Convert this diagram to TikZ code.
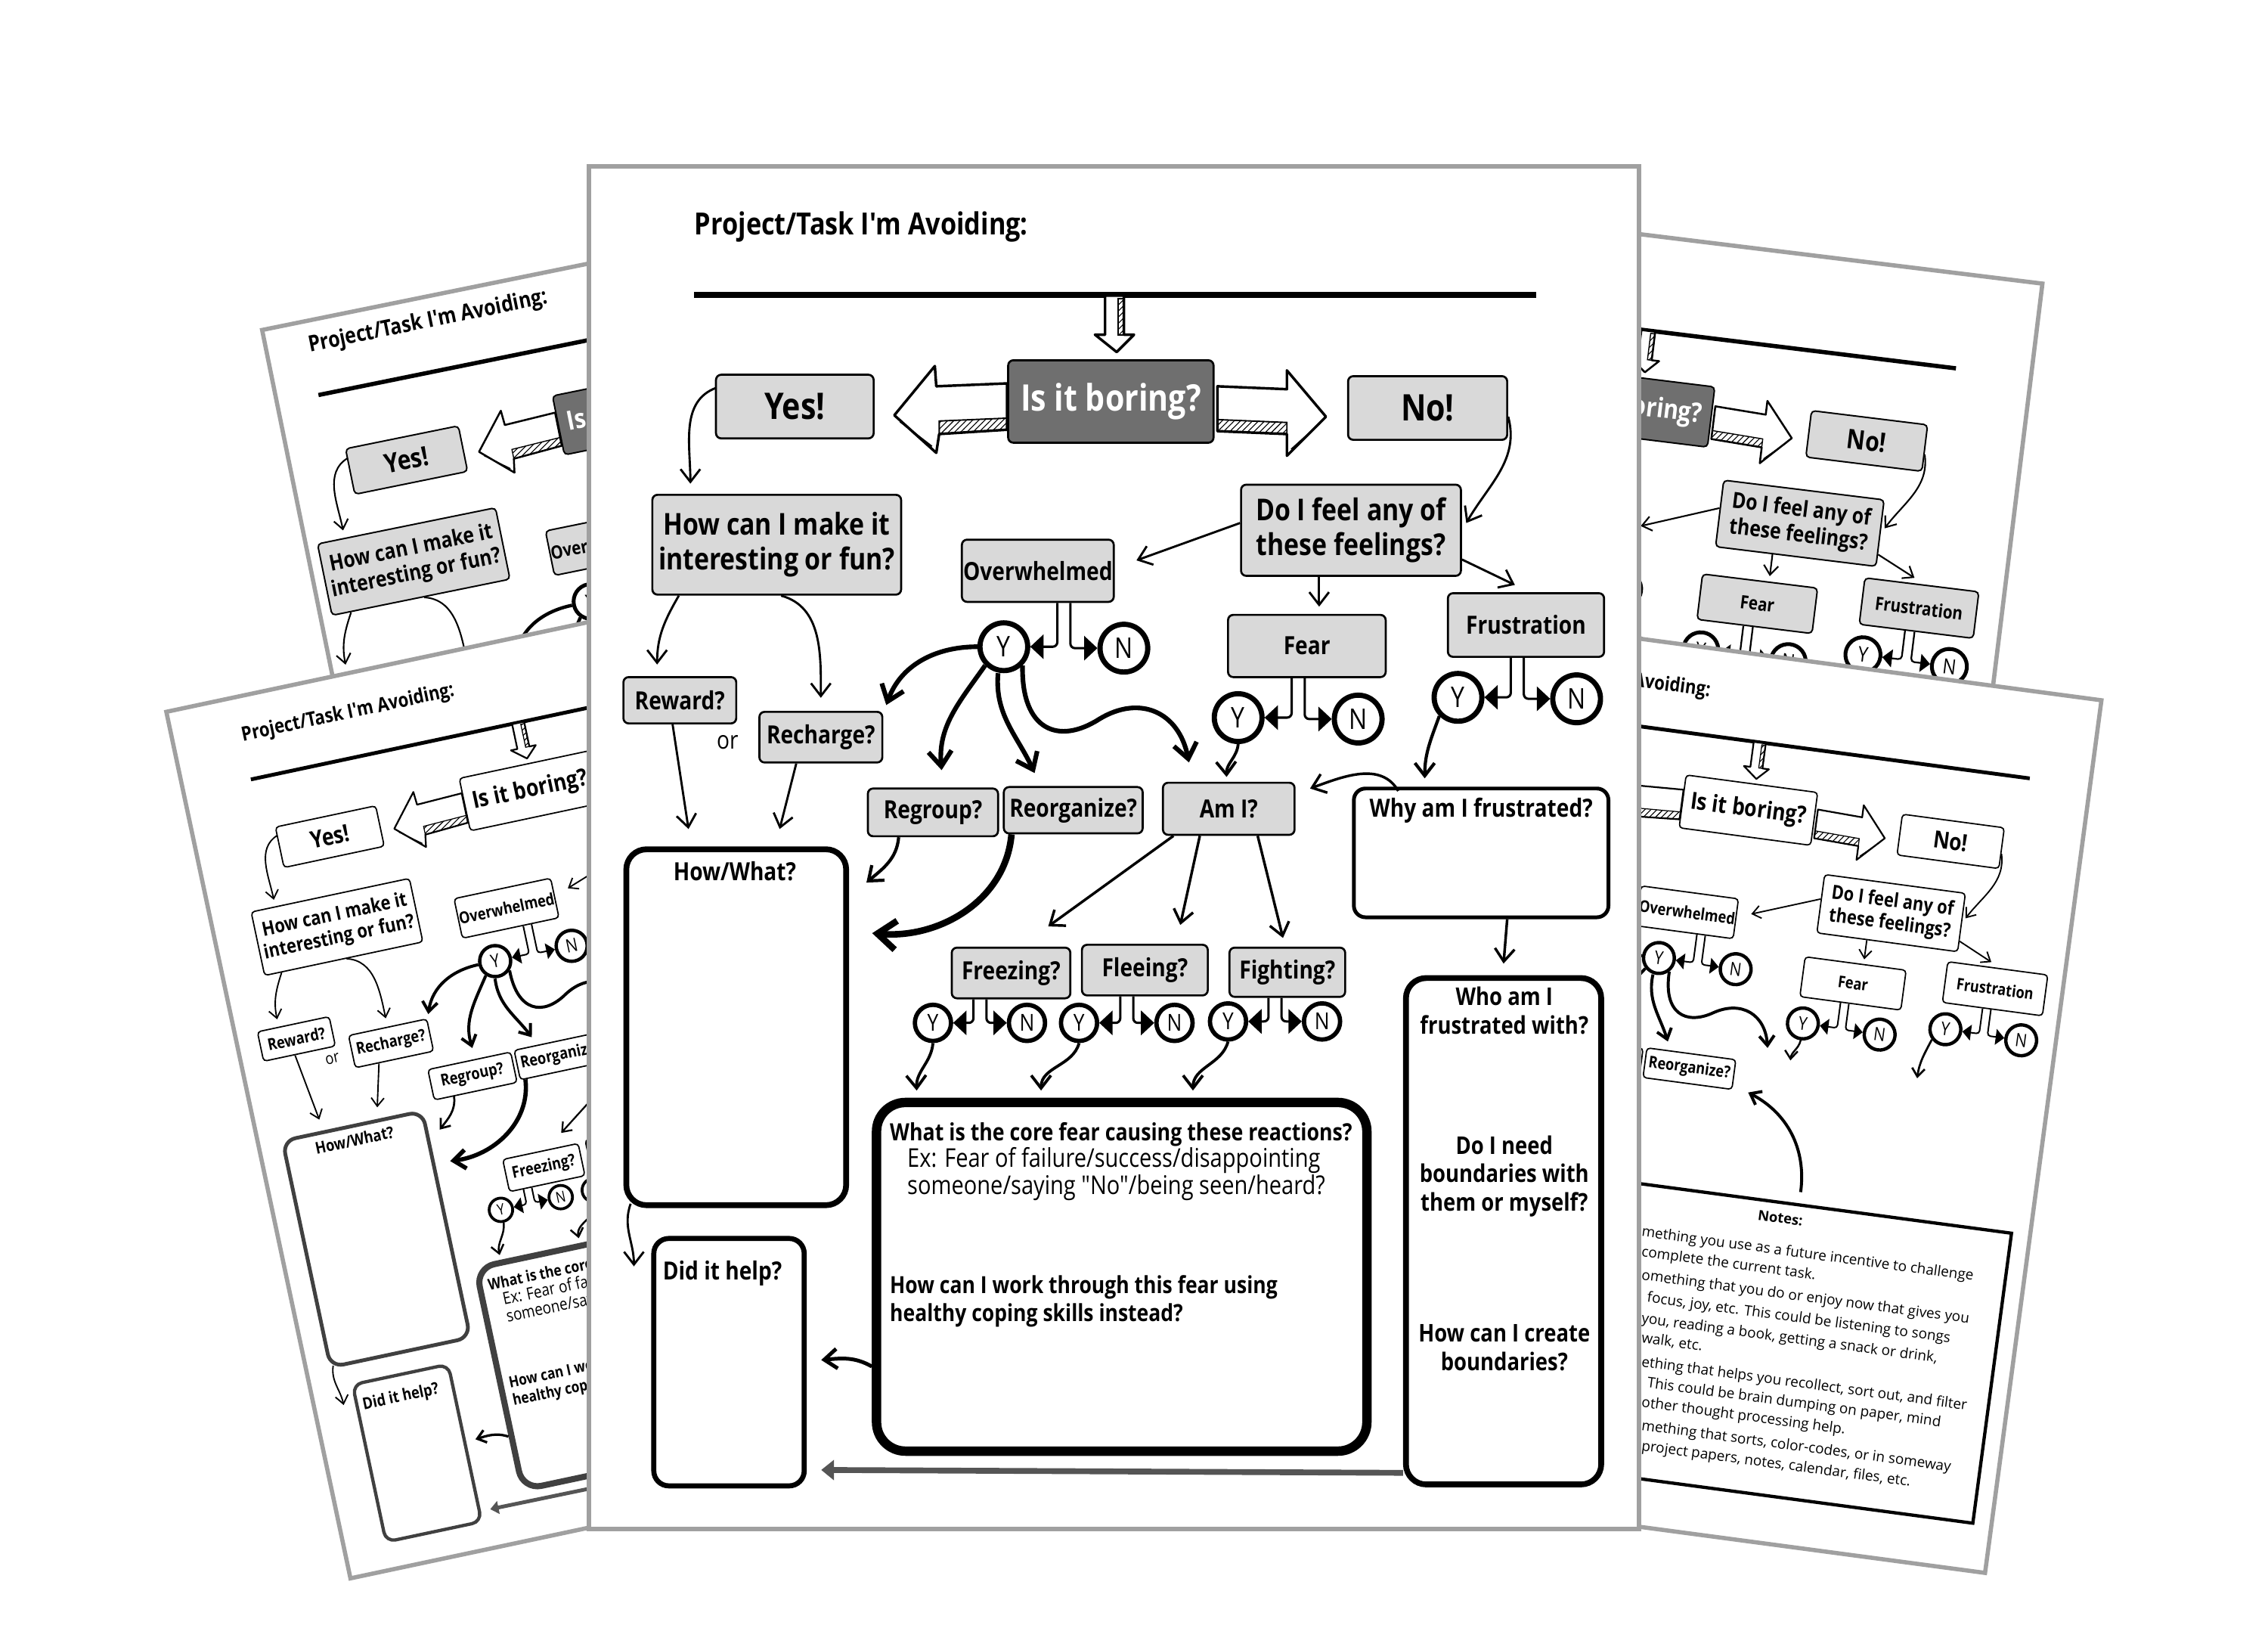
\documentclass[tikz,border=0pt]{standalone}
\usepackage{fontspec}
\setmainfont{Open Sans}
\newfontfamily\condf{Open Sans}[FakeStretch=0.85]
\usetikzlibrary{arrows.meta,calc,patterns}

\definecolor{boxgray}{HTML}{D9D9D9}
\definecolor{darkbox}{HTML}{6F6F6F}
\definecolor{pagegray}{HTML}{A0A0A0}
\definecolor{arrowgray}{HTML}{555555}

\def\U{0.25mm}
\newcommand\fs[2]{\fontsize{#1}{#2}\selectfont}
% colours of one sheet (gray sheet by default)
\newcommand\bfill{boxgray}
\newcommand\dfill{darkbox}
\newcommand\dtext{white}
\newcommand\bline{black}

\tikzset{
	bx/.style 2 args = {minimum width=#1*\U, minimum height=#2*\U},
	gbox/.style      = {rectangle, draw=black, line width=1.4*\U, fill=\bfill, rounded corners=0.9mm, inner sep=0pt, align=center, font=\condf\bfseries\fs{12.3}{14}},
	bigbox/.style    = {rectangle, draw=\bline, line width=4*\U, fill=white, rounded corners=3.5mm, inner sep=0pt},
	txt/.style       = {inner sep=0pt, align=center, font=\condf\bfseries\fs{12.3}{14}},
	yn/.style        = {circle, draw=black, line width=3.6*\U, fill=white, minimum size=33*\U, inner sep=0pt, font=\condf\fs{14}{14}},
	ynsmall/.style   = {yn, line width=3*\U, minimum size=25*\U, font=\condf\fs{11.5}{12}},
	arr/.style       = {line width=1.5*\U, -{Straight Barb[length=2.2mm,width=3.4mm]}},
	thickarr/.style  = {line width=3.2*\U, -{Straight Barb[length=2.6mm,width=4mm]}},
	splitarr/.style  = {line width=1.6*\U, rounded corners=0.8mm, -{Triangle[length=2.3mm,width=4.2mm]}},
	blockarr/.style  = {draw=black, line width=1.8*\U, fill=white, line join=round},
	hatch/.style     = {pattern=north east lines, draw=black, line width=1*\U},
	pageframe/.style = {draw=pagegray, line width=3*\U},
}

% split arrow from a box to its Y and N circles
\newcommand\splityn[3]{%
	\coordinate (ynm) at ($(#2.east)!.5!(#3.west)$);
	\coordinate (ynl) at ($(ynm)+(-4.5,0)$);
	\coordinate (ynr) at ($(ynm)+(4.5,0)$);
	\draw[splitarr] (ynl |- #1.south) |- (#2.east);
	\draw[splitarr] (ynr |- #1.south) |- (#3.west);
}

% upper half of the sheet
\newcommand\wsTop{%
	\node[anchor=west, inner sep=0pt, font=\condf\bfseries\fs{15}{18}] (title) at (480,157) {Project/Task I'm Avoiding:};
	\draw[line width=4*\U] (480,204) coordinate (lineL) -- (1062,204) coordinate (lineR);
	
	\node[gbox, bx={142}{57}, fill=\dfill, text=\dtext, font=\condf\bfseries\fs{18}{21}] (boring) at (768,277.5) {Is it boring?};
	\node[gbox, bx={109}{44}, font=\condf\bfseries\fs{18}{21}] (yes) at (549.5,281) {Yes!};
	\node[gbox, bx={110}{44}, font=\condf\bfseries\fs{18}{21}] (no)  at (987,282)   {No!};
	
	% block arrows
	\begin{scope}[shift={(boring.north)}]
		\draw[blockarr] (-4,-44) -- (9,-44) -- (9,-17) -- (16,-17) -- (4,-5) -- (-11,-17) -- (-4,-17) -- cycle;
		\draw[hatch] (5,-42) -- (9,-42) -- (9,-17) -- (5,-17) -- cycle;
	\end{scope}
	\begin{scope}[shift={(boring.west)}]
		\draw[blockarr] (0,-12.5) -- (-49,-10.5) -- (-50,-24.5) -- (-78,9.5) -- (-49,35.5) -- (-47,22.5) -- (0,19.5) -- cycle;
		\draw[hatch] (-47,13.5) -- (0,11.5) -- (0,19.5) -- (-47,22.5) -- cycle;
		\draw[line width=1*\U] (-74,14) -- (-52,31);
	\end{scope}
	\begin{scope}[shift={(boring.east)}]
		\draw[blockarr] (2,-10.5) -- (50,-8.5) -- (50,-21.5) -- (77,10.5) -- (50,37.5) -- (50,22.5) -- (2,20.5) -- cycle;
		\draw[hatch] (2,12.5) -- (50,14.5) -- (50,22.5) -- (2,20.5) -- cycle;
		\draw[line width=1*\U] (73,15) -- (53,33);
	\end{scope}
	
	\node[gbox, bx={172}{69}, font=\condf\bfseries\fs{14.8}{17}] (howfun) at (537,376.5) {How can I make it\\interesting or fun?};
	\node[gbox, bx={152}{63}, font=\condf\bfseries\fs{14.8}{17}] (feel)   at (934,366.5) {Do I feel any of\\these feelings?};
	\node[gbox, bx={105}{43}] (overw) at (717.5,394.5) {Overwhelmed};
	\node[gbox, bx={109}{43}] (fear)  at (903.5,446.5) {Fear};
	\node[gbox, bx={108}{44}] (frust) at (1055,432)   {Frustration};
	
	\node[yn] (ovY) at (694,447)  {Y};
	\node[yn] (ovN) at (777,448)  {N};
	\node[yn] (feY) at (856,496)  {Y};
	\node[yn] (feN) at (939,497)  {N};
	\node[yn] (frY) at (1008,482) {Y};
	\node[yn] (frN) at (1090,483) {N};
	\splityn{overw}{ovY}{ovN}
	\splityn{fear}{feY}{feN}
	\splityn{frust}{frY}{frN}
	
	\node[gbox, bx={78}{32}] (reward)   at (470,484)   {Reward?};
	\node[gbox, bx={85}{35}] (recharge) at (567.5,509.5) {Recharge?};
	\node[inner sep=0pt, font=\condf\fs{12.3}{14}] (or) at (503,513) {or};
	\node[gbox, bx={90}{33}] (regroup)  at (645,561.5) {Regroup?};
	\node[gbox, bx={96}{32}] (reorg)    at (742,560)   {Reorganize?};
	
	\coordinate (amIin)  at (822,527);
	\coordinate (amItop) at (848,537);
	\coordinate (whyin)  at (985,538);
	
	% connectors
	\draw[arr] ($(yes.west)+(1,-13)$) to[out=200,in=90] ($(howfun.north west)+(27,-7)$);
	\draw[arr] ($(no.east)+(0,6)$) to[out=-75,in=60] ($(feel.east)+(3,-5)$);
	\draw[arr] ($(feel.west)+(0,-5)$) -- ($(overw.north east)+(15,15)$);
	\draw[arr] ($(feel.south)+(-22,0)$) -- ($(fear.north)+(8.5,-5)$);
	\draw[arr] ($(feel.south east)+(0,-12)$) -- ($(frust.north west)+(47,-5)$);
	\draw[arr] ($(howfun.south west)+(19,0)$) to[out=240,in=90] ($(reward.north west)+(24,-8)$);
	\draw[arr] ($(howfun.south)+(3,0)$) to[out=-15,in=90] ($(recharge.north)+(0,-9)$);
	
	\draw[thickarr] (ovY.west) to[out=180,in=70] ($(recharge.north east)+(2,-4)$);
	\draw[thickarr] (ovY.south west) to[out=235,in=95] ($(regroup.north)+(6,-12)$);
	\draw[thickarr] ($(ovY.south)+(-4,0)$) to[out=265,in=115] ($(reorg.north west)+(22,-9)$);
	\draw[thickarr] (ovY.south east) .. controls (706,505) and (732,515) .. (760,497) .. controls (788,480) and (815,492) .. (amIin);
	\draw[arr, line width=2*\U] (feY.south) to[out=265,in=92] (amItop);
	\draw[arr, line width=2.2*\U] (frY.south west) to[out=250,in=90] (whyin);
}

% lower half of the sheet
\newcommand\wsBottom{%
	\node[gbox, bx={91}{36}] (ami) at (849.5,559) {Am I?};
	\node[bigbox, line width=2.6*\U, rounded corners=2mm, bx={176}{89}] (why) at (1024,589.5) {};
	\node[txt] (whyt) at (1024,560) {Why am I frustrated?};
	
	\node[gbox, bx={82}{35}] (freez) at (699,672.5)   {Freezing?};
	\node[gbox, bx={87}{35}] (flee)  at (791.5,670.5) {Fleeing?};
	\node[gbox, bx={80}{34}] (fight) at (890,672)     {Fighting?};
	\node[ynsmall] (frzY) at (645,707) {Y};
	\node[ynsmall] (frzN) at (710,707) {N};
	\node[ynsmall] (flY)  at (746,707) {Y};
	\node[ynsmall] (flN)  at (812,707) {N};
	\node[ynsmall] (fiY)  at (849,706) {Y};
	\node[ynsmall] (fiN)  at (914,706) {N};
	\splityn{freez}{frzY}{frzN}
	\splityn{flee}{flY}{flN}
	\splityn{fight}{fiY}{fiN}
	
	\node[bigbox, bx={152}{246}] (howwhat) at (509,710) {};
	\node[txt] (hwt) at (508,602) {How/What?};
	\node[bigbox, line width=3.5*\U, rounded corners=2.6mm, bx={104}{171}] (didhelp) at (504,941.5) {};
	\node[txt, anchor=west] (dht) at (458,880) {Did it help?};
	
	\node[bigbox, line width=6.5*\U, rounded corners=5mm, bx={339}{241}] (core) at (775.5,882.5) {};
	\node[txt, anchor=west, font=\condf\bfseries\fs{11.7}{14}] (coreq) at (615,784) {What is the core fear causing these reactions?};
	\node[txt, anchor=west, font=\condf\fs{12.7}{14}] (coreex1) at (627,802) {Ex: Fear of failure/success/disappointing};
	\node[txt, anchor=west, font=\condf\fs{12.7}{14}] (coreex2) at (627,821) {someone/saying "No"/being seen/heard?};
	\node[txt, anchor=west, align=left, font=\condf\bfseries\fs{11.6}{13.8}] (corecope) at (615,899.5) {How can I work through this fear using\\healthy coping skills instead?};
	
	\node[bigbox, rounded corners=3.5mm, bx={135}{350}] (who) at (1039.5,851) {};
	\node[txt, font=\condf\bfseries\fs{12}{13.8}] (who1) at (1040,698.5) {Who am I\\frustrated with?};
	\node[txt, font=\condf\bfseries\fs{12}{13.8}] (who2) at (1040,813)   {Do I need\\boundaries with\\them or myself?};
	\node[txt, font=\condf\bfseries\fs{12}{13.8}] (who3) at (1040,931.5) {How can I create\\boundaries?};
	
	% connectors
	\draw[arr] ($(reward.south)+(-5,0)$) -- ($(howwhat.north west)+(45,-12)$);
	\draw[arr] ($(recharge.south)+(-17,0)$) -- ($(howwhat.north west)+(108,-12)$);
	\draw[arr, line width=1.8*\U] ($(why.north west)+(32,3)$) to[out=120,in=20] ($(ami.east)+(10,-14)$);
	\draw[arr, line width=1.8*\U] ($(why.south)+(18,0)$) -- ($(who.north)+(0,-8)$);
	\draw[arr, line width=2.2*\U] ($(regroup.south west)+(22,0)$) to[out=265,in=40] ($(howwhat.north east)+(12,25)$);
	\draw[line width=4.5*\U, -{Straight Barb[length=3.2mm,width=5mm]}] ($(reorg.south west)+(6,0)$) to[out=-95,in=-5] ($(howwhat.east)+(16,-65)$);
	\draw[arr, line width=1.8*\U] ($(ami.south west)+(8,0)$) -- ($(freez.north east)+(-16,-14)$);
	\draw[arr, line width=1.8*\U] ($(ami.south)+(-20,0)$) -- ($(flee.north)+(24.5,-13)$);
	\draw[arr, line width=1.8*\U] ($(ami.south)+(20,0)$) -- ($(fight.north)+(-3,-6)$);
	\draw[arr, line width=2*\U] (frzY.south) to[out=265,in=92] ($(core.north west)+(31,-5)$);
	\draw[arr, line width=2*\U] (flY.south) to[out=255,in=90] ($(core.north west)+(117,-5)$);
	\draw[arr, line width=2*\U] (fiY.south) to[out=255,in=90] ($(core.north west)+(222,-5)$);
	\draw[arr, line width=2.6*\U] ($(core.west)+(0,62)$) to[out=150,in=5] ($(didhelp.east)+(10,-1.5)$);
	\draw[arr] ($(howwhat.south west)+(5,-3)$) to[out=250,in=90] ($(didhelp.north west)+(-12,21)$);
	\draw[draw=arrowgray, line width=4*\U, -{Triangle[length=2.2mm,width=3.4mm]}] ($(who.south west)+(0,-10)$) -- ($(didhelp.east)+(10,74.5)$);
}

% notes part of the second sheet
\newcommand\wsNotes{%
	\node[rectangle, draw=black, line width=3.5*\U, fill=white, bx={495}{313}, inner sep=0pt] (notes) at (865.5,849.5) {};
	\node[inner sep=0pt, font=\bfseries\fs{10.6}{12}] (notest) at (865.6,709.6) {Notes:};
	\foreach \nx/\ny/\nt [count=\ni] in {
		720.4/744.6/{mething you use as a future incentive to challenge},
		723.2/766/{complete the current task.},
		726.5/790.6/{omething that you do or enjoy now that gives you},
		735.5/813.7/{focus, joy, etc. This could be listening to songs},
		732.6/836.7/{you, reading a book, getting a snack or drink,},
		735.3/856.6/{walk, etc.},
		738.7/882.7/{ething that helps you recollect, sort out, and filter},
		747.6/904.2/{This could be brain dumping on paper, mind},
		744.5/925.6/{other thought processing help.},
		747.7/950.2/{mething that sorts, color-codes, or in someway},
		750.6/971.7/{project papers, notes, calendar, files, etc.}}
		{\node[anchor=west, inner sep=0pt, font=\fs{10.9}{12}] (note\ni) at (\nx,\ny) {\nt};}
	\draw[thickarr] ($(notes.north)+(18,-12)$) to[out=90,in=-20] ($(reorg.east)+(17,17)$);
}

\begin{document}
\begin{tikzpicture}[x=0.25mm, y=-0.25mm]
	\useasboundingbox (0,0) rectangle (1568,1140);
	\fill[white] (0,0) rectangle (1568,1140);
	
	% ===== back sheet, upper left =====
	\begin{scope}[transform canvas={shift={(155,220)}, rotate=11.5, scale=0.73, shift={(-407,-115)}}]
		\fill[white] (440,133) rectangle (1133,1057);
		\begin{scope}
			\clip (440,133) rectangle (1133,1057);
			\wsTop
		\end{scope}
		\draw[pageframe, line width=4*\U] (440,133) rectangle (1133,1057);
	\end{scope}
	
	% ===== back sheet, lower left =====
	\begin{scope}[transform canvas={shift={(115,492)}, rotate=12, scale=0.65, shift={(-407,-115)}}]
		\renewcommand\bfill{white}\renewcommand\dfill{white}\renewcommand\dtext{black}\renewcommand\bline{black!75}
		\fill[white] (407,115) rectangle (1133,1057);
		\begin{scope}
			\clip (407,115) rectangle (1133,1057);
			\wsTop
			\wsBottom
		\end{scope}
		\draw[pageframe, line width=4.5*\U] (407,115) rectangle (1133,1057);
	\end{scope}
	
	% ===== back sheet, upper right =====
	\begin{scope}[transform canvas={shift={(882.4,131)}, rotate=-7, scale=0.735, shift={(-407,-115)}}]
		\fill[white] (407,115) rectangle (1133,1057);
		\begin{scope}
			\clip (407,115) rectangle (1133,1057);
			\wsTop
		\end{scope}
		\draw[pageframe, line width=4*\U] (407,115) rectangle (1133,1057);
	\end{scope}
	
	% ===== back sheet, lower right =====
	\begin{scope}[transform canvas={shift={(988,422)}, rotate=-7.6, scale=0.646, shift={(-407,-115)}}]
		\renewcommand\bfill{white}\renewcommand\dfill{white}\renewcommand\dtext{black}
		\fill[white] (407,115) rectangle (1133,1057);
		\begin{scope}
			\clip (407,115) rectangle (1133,1057);
			\begin{scope}[shift={(6,4)}]
				\wsTop
			\end{scope}
			\wsNotes
		\end{scope}
		\draw[pageframe, line width=4.5*\U] (407,115) rectangle (1133,1057);
	\end{scope}
	
	% ===== front sheet =====
	\fill[white] (407,115) rectangle (1133,1057);
	\wsTop
	\wsBottom
	\draw[pageframe] (407,115) rectangle (1133,1057);
\end{tikzpicture}
\end{document}
